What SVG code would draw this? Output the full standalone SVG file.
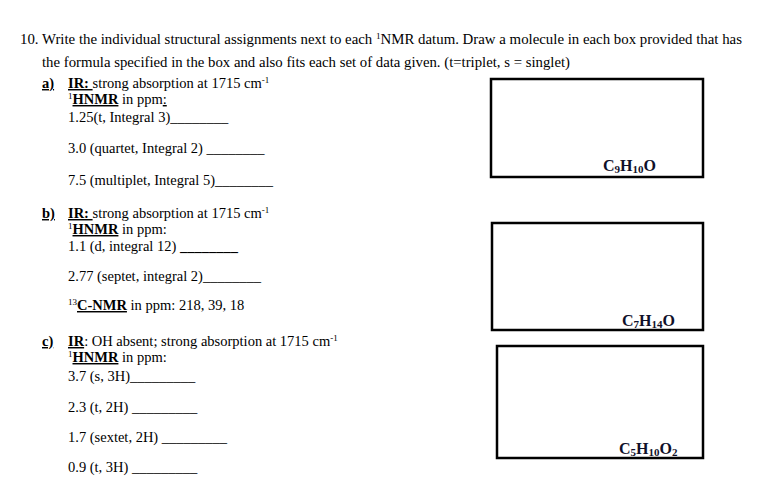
<svg xmlns="http://www.w3.org/2000/svg" width="773" height="479" viewBox="0 0 773 479">
<style>
text{font-family:"Liberation Serif","Times New Roman",serif;font-size:14.5px;fill:#000}
.b{font-weight:bold}
.u{text-decoration:underline}
.sup{font-size:9px}
.box{fill:none;stroke:#000;stroke-width:2.5}
.f{font-weight:bold;font-size:16px;fill:#10102a}
.fs{font-size:11px}
</style>
<rect width="773" height="479" fill="#fff"/>
<g id="header">
<text x="20" y="44" textLength="722" lengthAdjust="spacingAndGlyphs">10. Write the individual structural assignments next to each <tspan class="sup" dy="-5">1</tspan><tspan dy="5">NMR datum. Draw a molecule in each box provided that has</tspan></text>
<text x="42" y="67" textLength="528" lengthAdjust="spacingAndGlyphs">the formula specified in the box and also fits each set of data given. (t=triplet, s = singlet)</text>
</g>
<g id="partA">
<text x="42" y="88"><tspan class="b u">a)</tspan></text>
<text x="68" y="88"><tspan class="b u">IR: </tspan>strong absorption at 1715 cm<tspan class="sup" dy="-5">-1</tspan></text>
<text x="68" y="104"><tspan class="sup" dy="-5">1</tspan><tspan class="b u" dy="5">HNMR</tspan> in ppm<tspan class="u">:</tspan></text>
<text x="68" y="122">1.25(t, Integral 3)________</text>
<text x="68" y="153">3.0 (quartet, Integral 2) ________</text>
<text x="68" y="185">7.5 (multiplet, Integral 5)________</text>
</g>
<g id="partB">
<text x="42" y="218"><tspan class="b u">b)</tspan></text>
<text x="68" y="218"><tspan class="b u">IR: </tspan>strong absorption at 1715 cm<tspan class="sup" dy="-5">-1</tspan></text>
<text x="68" y="234"><tspan class="sup" dy="-5">1</tspan><tspan class="b u" dy="5">HNMR</tspan> in ppm:</text>
<text x="68" y="251">1.1  (d, integral 12) <tspan class="b">________</tspan></text>
<text x="68" y="281">2.77 (septet, integral 2)________</text>
<text x="68" y="310"><tspan class="sup" dy="-5">13</tspan><tspan class="b u" dy="5">C-NMR</tspan> in ppm: 218, 39, 18</text>
</g>
<g id="partC">
<text x="42" y="346"><tspan class="b u">c)</tspan></text>
<text x="68" y="346"><tspan class="b u">IR</tspan>: OH absent; strong absorption at 1715 cm<tspan class="sup" dy="-5">-1</tspan></text>
<text x="68" y="362"><tspan class="sup" dy="-5">1</tspan><tspan class="b u" dy="5">HNMR</tspan> in ppm:</text>
<text x="68" y="381">3.7  (s, 3H)_________</text>
<text x="68" y="412">2.3 (t, 2H) _________</text>
<text x="68" y="442">1.7 (sextet, 2H) _________</text>
<text x="68" y="472">0.9 (t, 3H) _________</text>
</g>
<g id="boxA">
<rect class="box" x="491" y="79" width="212" height="98"/>
<text class="f" x="603" y="171">C<tspan class="fs" dy="2">9</tspan><tspan dy="-2">H</tspan><tspan class="fs" dy="2">10</tspan><tspan dy="-2">O</tspan></text>
</g>
<g id="boxB">
<rect class="box" x="492" y="223" width="211" height="107"/>
<text class="f" x="622" y="326">C<tspan class="fs" dy="2">7</tspan><tspan dy="-2">H</tspan><tspan class="fs" dy="2">14</tspan><tspan dy="-2">O</tspan></text>
</g>
<g id="boxC">
<rect class="box" x="497" y="346" width="206" height="112"/>
<text class="f" x="619" y="454">C<tspan class="fs" dy="2">5</tspan><tspan dy="-2">H</tspan><tspan class="fs" dy="2">10</tspan><tspan dy="-2">O</tspan><tspan class="fs" dy="2">2</tspan></text>
</g>
</svg>
